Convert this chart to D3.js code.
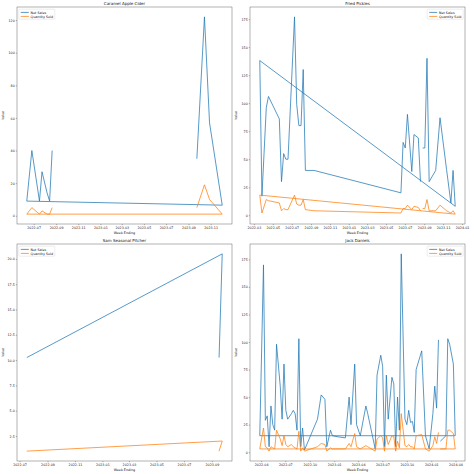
<html>
<head>
<script src="https://cdnjs.cloudflare.com/ajax/libs/d3/7.8.5/d3.min.js"></script>
<style>
  body { margin: 0; background: #fff; }
  text { font-family: "DejaVu Sans", sans-serif; }
</style>
</head>
<body>
<script>
// ---- data (plotted in the order the rows came in) ----
var cacDates = ["2023-09-24","2023-10-15","2023-10-29","2023-12-03","2022-06-12","2022-06-26","2022-07-17","2022-07-24","2022-08-07","2022-08-14","2022-08-21"];
var cacNet = [35, 122, 57, 6.5, 9, 40, 9, 27, 14, 9, 40];
var cacQty = [5, 19, 10, 1, 1, 5, 1, 3, 1, 1, 5];
var cacXTicks = ["2022-07","2022-09","2022-11","2023-01","2023-03","2023-05","2023-07","2023-09","2023-11"];
var cacYTicks = [0, 20, 40, 60, 80, 100, 120];

var fpDates = ["2023-08-27","2023-09-03","2023-09-10","2023-09-17","2023-10-08","2023-10-22","2023-11-12","2023-11-26","2023-12-03","2023-12-10",
  "2022-03-20","2022-03-27","2022-04-10","2022-04-17","2022-05-22","2022-05-29","2022-06-05","2022-06-12","2022-06-19","2022-07-10",
  "2022-07-17","2022-07-24","2022-07-31","2022-08-07","2022-08-14","2022-09-11",
  "2023-06-18","2023-06-25","2023-07-02","2023-07-09","2023-07-23","2023-07-30","2023-08-13","2023-08-20"];
var fpNet = [60, 60, 140, 30, 40, 87, 41, 11, 40, 8,
  138, 17, 96, 106, 86, 30, 55, 50, 50, 177,
  99, 80, 80, 130, 40, 40,
  20, 65, 60, 90, 39, 72, 69, 30];
var fpQty = [6, 6, 14, 4, 4, 9, 4, 2, 4, 1,
  18, 2, 14, 13, 11, 4, 6, 5, 5, 18,
  10, 9, 9, 14, 5, 4,
  2, 6, 6, 9, 5, 8, 7, 4];
var fpXTicks = ["2022-03","2022-05","2022-07","2022-09","2022-11","2023-01","2023-03","2023-05","2023-07","2023-09","2023-11","2024-01"];
var fpYTicks = [0, 25, 50, 75, 100, 125, 150, 175];

var sspDates = ["2022-07-17","2023-09-24","2023-09-17"];
var sspNet = [10.25, 20.5, 10.25];
var sspQty = [1, 2, 1];
var sspXTicks = ["2022-07","2022-09","2022-11","2023-01","2023-03","2023-05","2023-07","2023-09"];
var sspYTicks = [2.5, 5, 7.5, 10, 12.5, 15, 17.5, 20];

var jdDates = ["2024-02-04","2024-02-25","2024-03-03","2024-03-10","2024-03-24","2024-03-31",
  "2022-03-27","2022-04-10","2022-04-17","2022-04-24","2022-05-01","2022-05-08","2022-05-15","2022-05-22","2022-05-29","2022-06-12",
  "2022-06-19","2022-06-26","2022-07-03","2022-07-10","2022-07-24","2022-07-31","2022-08-07","2022-08-14","2022-08-21","2022-08-28",
  "2022-09-04","2022-09-11","2022-10-30","2022-11-13","2022-11-27","2022-12-04","2022-12-18","2022-12-25","2023-01-15","2023-02-12",
  "2023-02-26","2023-03-05","2023-03-19","2023-03-26","2023-04-09","2023-04-30","2023-05-07","2023-06-04","2023-06-11","2023-06-25",
  "2023-07-02","2023-07-09","2023-07-16","2023-07-23","2023-08-06","2023-08-13","2023-08-20","2023-08-27","2023-09-03","2023-09-10",
  "2023-09-24","2023-10-01","2023-10-08","2023-10-15","2023-10-22","2023-10-29","2023-11-05","2023-11-26","2023-12-10","2023-12-24",
  "2024-01-07","2024-01-14","2024-01-21","2024-01-28"];
var jdNet = [10, 15, 103, 98, 80, 15,
  15, 170, 29, 33, 5, 42, 25, 20, 98, 60,
  30, 80, 38, 30, 35, 38, 35, 20, 103, 5,
  22, 2, 30, 52, 48, 5, 20, 15, 14, 13,
  50, 25, 80, 25, 15, 42, 35, 3, 70, 88,
  78, 5, 70, 30, 68, 62, 5, 50, 20, 180,
  30, 25, 38, 27, 28, 18, 75, 92, 15, 3,
  35, 60, 40, 102];
var jdQty = [3, 3, 20, 20, 17, 3,
  3, 22, 5, 4, 1, 5, 4, 3, 20, 12,
  6, 15, 7, 5, 7, 5, 4, 3, 19, 1,
  4, 1, 5, 8, 7, 1, 4, 3, 3, 3,
  8, 5, 17, 5, 3, 6, 5, 1, 12, 15,
  13, 1, 15, 7, 15, 14, 1, 10, 4, 35,
  6, 5, 7, 5, 5, 3, 15, 16, 3, 1,
  6, 14, 8, 18];
var jdXTicks = ["2022-04","2022-07","2022-10","2023-01","2023-04","2023-07","2023-10","2024-01","2024-04"];
var jdYTicks = [0, 25, 50, 75, 100, 125, 150, 175];

var seriesNames = ["Net Sales", "Quantity Sold"];
var colors = ["#1f77b4", "#ff7f0e"];

var W = 474, H = 474;
var parseDay = d3.timeParse("%Y-%m-%d");
var parseMonth = d3.timeParse("%Y-%m");

var panels = [
  { title: "Caramel Apple Cider", dates: cacDates, net: cacNet, qty: cacQty, xt: cacXTicks, yt: cacYTicks, x: 17, y: 7, legend: "left", yfmt: "d" },
  { title: "Fried Pickles", dates: fpDates, net: fpNet, qty: fpQty, xt: fpXTicks, yt: fpYTicks, x: 250, y: 7, legend: "right", yfmt: "d" },
  { title: "Sam Seasonal Pitcher", dates: sspDates, net: sspNet, qty: sspQty, xt: sspXTicks, yt: sspYTicks, x: 17, y: 244, legend: "left", yfmt: ".1f" },
  { title: "Jack Daniels", dates: jdDates, net: jdNet, qty: jdQty, xt: jdXTicks, yt: jdYTicks, x: 250, y: 244, legend: "right", yfmt: "d" }
];
var pw = 215, ph = 217;

var svg = d3.select("body").append("svg")
  .attr("width", W)
  .attr("height", H);

panels.forEach(function(p) {
  var g = svg.append("g").attr("transform", "translate(" + p.x + "," + p.y + ")");
  var dates = p.dates.map(parseDay);

  // matplotlib style 5% margins
  var tExt = d3.extent(dates);
  var tPad = (tExt[1] - tExt[0]) * 0.05;
  var x = d3.scaleTime()
    .domain([new Date(+tExt[0] - tPad), new Date(+tExt[1] + tPad)])
    .range([0, pw]);

  var allVals = p.net.concat(p.qty);
  var vExt = d3.extent(allVals);
  var vPad = (vExt[1] - vExt[0]) * 0.05;
  var y = d3.scaleLinear()
    .domain([vExt[0] - vPad, vExt[1] + vPad])
    .range([ph, 0]);

  var xAxis = d3.axisBottom(x)
    .tickValues(p.xt.map(parseMonth))
    .tickFormat(d3.timeFormat("%Y-%m"))
    .tickSize(1.2)
    .tickPadding(1);
  var yAxis = d3.axisLeft(y)
    .tickValues(p.yt)
    .tickFormat(d3.format(p.yfmt))
    .tickSize(1.2)
    .tickPadding(1);

  var gx = g.append("g").attr("transform", "translate(0," + ph + ")").call(xAxis);
  var gy = g.append("g").call(yAxis);
  [gx, gy].forEach(function(a) {
    a.select(".domain").remove();
    a.selectAll(".tick line").attr("stroke", "#333").attr("stroke-width", 0.35);
    a.selectAll(".tick text").attr("font-size", 3.3).attr("fill", "#222")
      .attr("font-family", "DejaVu Sans");
  });

  var series = [p.net, p.qty];
  var line = d3.line()
    .x(function(d) { return x(d[0]); })
    .y(function(d) { return y(d[1]); });

  series.forEach(function(vals, i) {
    var pts = dates.map(function(d, j) { return [d, vals[j]]; });
    g.append("path")
      .datum(pts)
      .attr("fill", "none")
      .attr("stroke", colors[i])
      .attr("stroke-width", 0.75)
      .attr("stroke-linejoin", "round")
      .attr("d", line);
  });

  // frame
  g.append("rect")
    .attr("width", pw)
    .attr("height", ph)
    .attr("fill", "none")
    .attr("stroke", "#444")
    .attr("stroke-width", 0.4);

  g.append("text")
    .attr("x", pw / 2)
    .attr("y", -1.8)
    .attr("text-anchor", "middle")
    .attr("font-size", 4)
    .attr("fill", "#111")
    .text(p.title);

  g.append("text")
    .attr("x", pw / 2)
    .attr("y", ph + 9.5)
    .attr("text-anchor", "middle")
    .attr("font-size", 3.3)
    .attr("fill", "#111")
    .text("Week Ending");

  g.append("text")
    .attr("transform", "translate(-13," + (ph / 2) + ") rotate(-90)")
    .attr("text-anchor", "middle")
    .attr("font-size", 3.3)
    .attr("fill", "#111")
    .text("Value");

  // legend
  var lw = 36, lh = 10;
  var lx = p.legend === "left" ? 1.8 : pw - 1.8 - lw;
  var lg = g.append("g").attr("transform", "translate(" + lx + ",2.2)");
  lg.append("rect")
    .attr("width", lw)
    .attr("height", lh)
    .attr("rx", 0.8)
    .attr("fill", "#fff")
    .attr("fill-opacity", 0.8)
    .attr("stroke", "#ccc")
    .attr("stroke-width", 0.35);
  seriesNames.forEach(function(name, i) {
    var yy = 3.2 + i * 4;
    lg.append("line")
      .attr("x1", 2).attr("x2", 10)
      .attr("y1", yy).attr("y2", yy)
      .attr("stroke", colors[i])
      .attr("stroke-width", 0.75);
    lg.append("text")
      .attr("x", 11.8)
      .attr("y", yy + 1.2)
      .attr("font-size", 3.3)
      .attr("fill", "#111")
      .text(name);
  });
});
</script>
</body>
</html>
